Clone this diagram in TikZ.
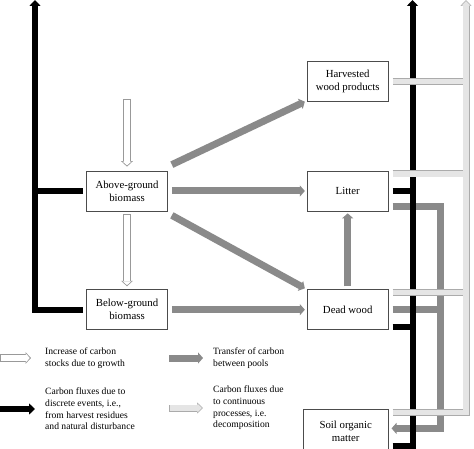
\documentclass[tikz,border=0pt]{standalone}
\usepackage{fontspec}
\setmainfont{Liberation Serif}
\usetikzlibrary{arrows.meta,positioning}

\begin{document}
\begin{tikzpicture}[x=1pt,y=-1pt,
  box/.style={draw=black!70, line width=0.7pt, minimum width=81pt, minimum height=40pt,
    align=center, inner sep=1pt, font=\fontsize{10.8}{13}\selectfont},
  legend/.style={anchor=west, align=left, inner sep=0pt, font=\fontsize{9.6}{11.7}\selectfont},
  discrete/.style={draw=black, line width=6pt, -{Triangle[width=11pt,length=6pt]}},
  transfer/.style={draw=black!46, line width=7pt, -{Triangle[width=11pt,length=5pt]}},
  growth/.style={draw=white, line width=6.4pt, shorten <=0.8pt, shorten >=1.3pt,
    -{Triangle[width=8.6pt,length=3.8pt]},
    preaction={draw=black!40, line width=8pt, shorten <=0pt, shorten >=0pt,
      -{Triangle[width=11.5pt,length=5.5pt]}}},
  continuous/.style={draw=black!10, line width=5.4pt, shorten <=0.8pt, shorten >=1.2pt,
    -{Triangle[width=8.6pt,length=4.4pt]},
    preaction={draw=black!33, line width=7pt, shorten <=0pt, shorten >=0pt,
      -{Triangle[width=11pt,length=6pt]}}},
  node distance=78pt]
  \clip (0,0) rectangle (474,449);

  % pools
  \node[box] (ag) at (127,191) {Above-ground\\biomass};
  \node[box] (bg)  [below=of ag] {Below-ground\\biomass};
  \node[box] (lit) [right=139pt of ag] {Litter};
  \node[box] (dw)  [right=139pt of bg] {Dead wood};
  \node[box] (hwp) [above=69pt of lit] {Harvested\\wood products};
  \node[box, minimum width=85pt, minimum height=43pt] (som) [below=79pt of dw, xshift=-2pt] {Soil organic\\matter};

  \coordinate (uptake) at (127,99);
  \coordinate (topL) at (35,0);
  \coordinate (topR) at (412.5,0);
  \coordinate (topC) at (466,0);
  \coordinate (dgv) at (440,0);

  % transfers between pools
  \draw[transfer] ([xshift=4pt,yshift=6pt]ag.north east) -- ([xshift=-2pt]hwp.south west);
  \draw[transfer, shorten <=4pt, shorten >=2pt] (ag) -- (lit);
  \draw[transfer] ([xshift=4pt,yshift=-4pt]ag.south east) -- ([xshift=-2pt,yshift=1pt]dw.north west);
  \draw[transfer, shorten <=4pt, shorten >=2pt] (bg) -- (dw);
  \draw[transfer, shorten <=3pt, shorten >=2pt] (dw) -- (lit);
  \draw[transfer, shorten <=4pt, shorten >=3pt] ([yshift=-16pt]lit.east) -| ([yshift=2.5pt]som.east -| dgv) -- ([yshift=2.5pt]som.east);
  \draw[transfer, -, shorten <=4pt] (dw.east) -- (dw.east -| dgv);

  % discrete events
  \draw[discrete, shorten <=3pt] (bg.west) -| (topL);
  \draw[discrete, -, shorten <=3pt] (ag.west) -- (ag.west -| topL);
  \draw[discrete, shorten <=4pt] ([yshift=-15.5pt]som.east) -| (topR);
  \draw[discrete, -, shorten <=4pt] (lit.east) -- (lit.east -| topR);
  \draw[discrete, -, shorten <=4pt] ([yshift=-17pt]dw.east) -- ([yshift=-17pt]dw.east -| topR);

  % continuous processes, outline first then fill
  \foreach \w/\c/\a/\b/\tw/\tl in {7/black!33/4/0/11/6, 5.4/black!10/4.8/1.2/8.6/4.4} {
    \draw[line width=\w pt, draw=\c, shorten <=\a pt, shorten >=\b pt,
      -{Triangle[width=\tw pt,length=\tl pt]}] ([yshift=18.5pt]som.east) -| (topC);
    \draw[line width=\w pt, draw=\c, shorten <=\a pt] (hwp.east) -- (hwp.east -| topC);
    \draw[line width=\w pt, draw=\c, shorten <=\a pt] ([yshift=17pt]lit.east) -- ([yshift=17pt]lit.east -| topC);
    \draw[line width=\w pt, draw=\c, shorten <=\a pt] ([yshift=17pt]dw.east) -- ([yshift=17pt]dw.east -| topC);
  }

  % growth
  \draw[growth] (uptake) -- ([yshift=4pt]ag.north);
  \draw[growth] ([yshift=-3pt]ag.south) -- ([yshift=3pt]bg.north);

  % legend
  \node[legend] (lgrowth) at (45,358) {Increase of carbon\\stocks due to growth};
  \node[legend] (ltransfer) at (213,358) {Transfer of carbon\\between pools};
  \node[legend] (ldiscrete) at (45,409) {Carbon fluxes due to\\discrete events, i.e.,\\from harvest residues\\and natural disturbance};
  \node[legend] (lcontin) at (213,408) {Carbon fluxes due\\to continuous\\processes, i.e.\\decomposition};
  \coordinate (kg) at (0,358);
  \coordinate (kt) at (169,358);
  \coordinate (kd) at (0,409);
  \coordinate (kc) at (169,408);
  \draw[growth] (kg) -- ([xshift=-14pt]lgrowth.west);
  \draw[transfer, shorten >=10pt] (kt) -- (ltransfer.west);
  \draw[discrete, shorten >=10pt] (kd) -- (ldiscrete.west);
  \draw[continuous] (kc) -- ([xshift=-10pt]lcontin.west);
\end{tikzpicture}
\end{document}
